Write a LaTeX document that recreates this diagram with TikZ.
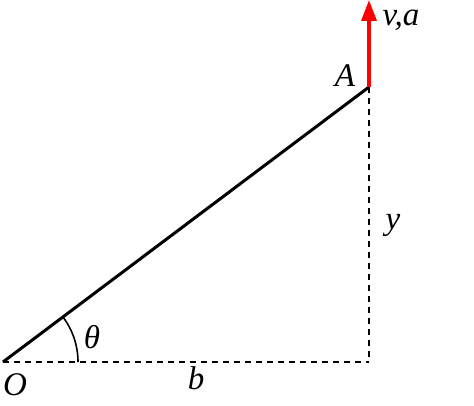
\documentclass[tikz,border=0pt]{standalone}
\usepackage{fontspec}
\setmainfont{Liberation Serif}
\usetikzlibrary{arrows.meta}
\begin{document}
\begin{tikzpicture}[x=1pt,y=-1pt,
  lbl/.style={font=\fontsize{33}{35}\selectfont\itshape, inner sep=0pt},
  dashline/.style={line width=2.6pt, dash pattern=on 6pt off 5pt},
  rod/.style={line width=3pt},
  vel/.style={red, line width=3.4pt, -{Triangle[length=21pt,width=15pt]}}]
\useasboundingbox (0,0) rectangle (474,406);
\coordinate (O) at (3,362);
\coordinate (A) at (369,87);
\coordinate (C) at (369,362);
\coordinate (T) at (369,0);
\draw[dashline] (O) -- (C);
\draw[dashline] (A) -- (C);
\draw[rod] (O) -- (A);
\draw[line width=1.6pt] ([xshift=75pt]O) arc[start angle=0, end angle=36.9, radius=75pt];
\draw[vel] (A) -- (T);
\node[lbl] (lv) at (401,20) {v,a};
\node[lbl] (lA) at (345,76) {A};
\node[lbl] (lO) at (15,385) {O};
\node[lbl] (lb) at (196,378) {b};
\node[lbl] (ly) at (393,225) {y};
\node[lbl] (lt) at (92,337) {θ};
\end{tikzpicture}
\end{document}
